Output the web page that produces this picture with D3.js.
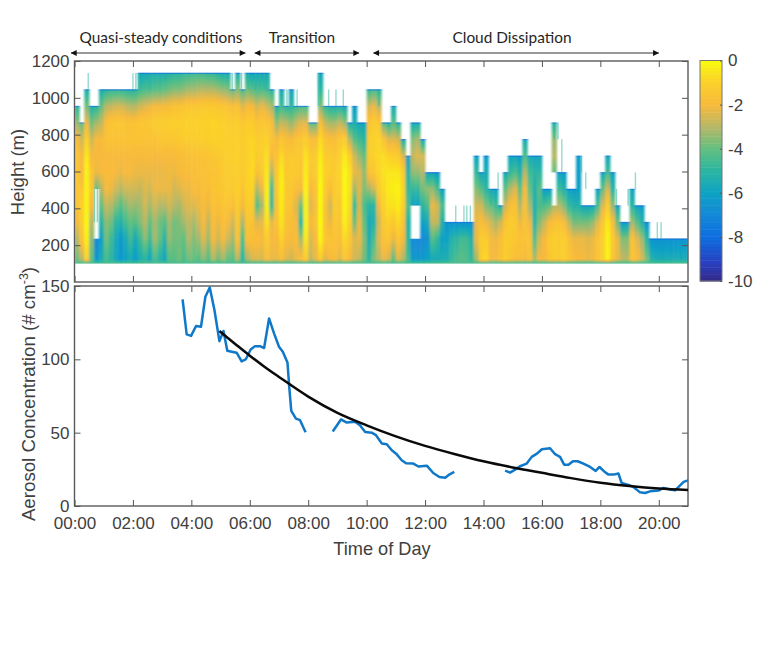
<!DOCTYPE html>
<html>
<head>
<meta charset="utf-8">
<script src="https://cdn.jsdelivr.net/npm/d3@7/dist/d3.min.js"></script>
<style>
  html, body { margin: 0; padding: 0; background: #fff; }
  svg { display: block; }
  text { font-family: "Liberation Sans", Arial, sans-serif; fill: #404040; }
  .note { font-family: Lato, "Open Sans", sans-serif; fill: #262626; font-size: 15.4px; }
</style>
</head>
<body>
<svg id="chart" width="768" height="646"></svg>
<script>
// Height (m) of each profile entry; a column lists values from the lowest level up to its cloud top.
const heightLevels = [125, 235, 325, 415, 505, 595, 685, 775, 865, 955, 1045, 1135];
const floorHeight = 100;
const floorValue = -4.4;
const n = null;

// log10 LWC profiles, one block per hour of the day, six ten-minute columns in each.
const hour00 = [
  [-3.8,-3,-2,-1.6,-1.5,-1.5,-1.5,-2,-3.4,-5],
  [-3,-1.5,-1.2,-1,-1.5,-2,-2,-2.6,-4],
  [-1,-0.3,-0.1,-0.2,-0.2,-0.2,-0.5,-1,-2.2,-3.8,-5.4],
  [-4,-3.5,-3,-2,-1.5,-1.5,-2,-2.6,-3.8,-5.2],
  [-6.5,-7,n,n,-4,-2.2,-2,-2,-3.2,-5],
  [-5.5,-6,-5,-4,-3,-2,-2,-2,-2.8,-4,-5.4]
];
const hour01 = [
  [-4.5,-3.8,-3.5,-2.8,-2,-1.9,-2,-1.6,-1.8,-3,-5],
  [-5,-4.6,-3.8,-3,-2.2,-1.9,-2,-1.6,-1.5,-2.8,-4.8],
  [-5.8,-5.6,-5,-3.6,-2.6,-2,-2,-1.6,-1.4,-2.6,-4.8],
  [-6.5,-6.4,-5.2,-4.2,-3,-2.2,-2,-1.6,-1.4,-2.6,-4.8],
  [-6,-5.6,-4.5,-3.6,-2.6,-2,-2,-1.6,-1.6,-2.8,-5],
  [-5.6,-4.6,-4,-3.2,-2.6,-2,-2,-1.6,-1.6,-3,-5]
];
const hour02 = [
  [-6.2,-5.6,-4.2,-3.4,-2.6,-2.2,-2,-1.6,-1.6,-3,-5],
  [-5.4,-4.6,-3.6,-3.2,-2.8,-2.2,-2,-1.6,-1.4,-2.6,-4.6,-5.8],
  [-5,-3.5,-3,-2.6,-2.4,-2.2,-2,-1.6,-1.4,-2.4,-4.4,-5.6],
  [-5.8,-4.6,-4,-3.2,-2.6,-2.2,-2,-1.6,-1.4,-2.2,-4.4,-5.6],
  [-4.4,-3.2,-3.2,-2.6,-2.2,-2.2,-2,-1.6,-1.2,-2,-4.2,-5.4],
  [-5.2,-4,-3.8,-3,-2.2,-2.2,-2,-1.4,-1.2,-2,-4.2,-5.4]
];
const hour03 = [
  [-5.8,-5,-4.2,-3,-2.2,-2.2,-2,-1.4,-1.2,-1.9,-4,-5.4],
  [-4.2,-3.4,-3.2,-2.6,-2.2,-2.1,-2,-1.4,-1.1,-1.8,-3.8,-5.2],
  [-4.2,-3.8,-3.8,-3,-2.6,-2.2,-2,-1.4,-1.1,-1.6,-3.6,-5],
  [-3.8,-3.8,-3.6,-3.2,-2.4,-2,-1.8,-1.3,-1.1,-1.6,-3.6,-5],
  [-4.4,-4,-3.2,-2.6,-2.2,-1.9,-1.8,-1.2,-1,-1.5,-3.4,-4.8],
  [-3.8,-3,-2.8,-2.4,-2.2,-1.9,-1.7,-1.2,-1,-1.4,-3.2,-4.8]
];
const hour04 = [
  [-4,-3.6,-3.2,-2.4,-1.9,-1.8,-1.7,-1.2,-1,-1.4,-3.2,-4.6],
  [-4.2,-3.2,-2.6,-2.2,-2,-1.7,-1.6,-1.1,-1,-1.4,-3,-4.6],
  [-3.5,-2.4,-2,-1.9,-1.7,-1.7,-1.6,-1.1,-1,-1.3,-3,-4.6],
  [-4.2,-3.2,-2.8,-2.2,-1.8,-1.6,-1.5,-1.1,-1,-1.3,-3,-4.8],
  [-3,-2,-1.8,-1.6,-1.5,-1.6,-1.4,-1,-0.9,-1.3,-3,-4.8],
  [-3.8,-2.6,-2.2,-1.8,-1.5,-1.5,-1.3,-1,-1,-1.4,-3.2,-5.2]
];
const hour05 = [
  [-3.2,-2,-1.8,-1.5,-1.4,-1.3,-1.2,-1,-1,-1.5,-3.4,-5.4],
  [-4,-2.6,-2,-1.5,-1.2,-1.2,-1.1,-1,-1.1,-1.6,-3.6,-5.6],
  [-4.2,-3.2,-2.6,-1.8,-1.3,-1.2,-1.1,-1.1,-1.2,-1.8,-4],
  [-3,-1.6,-1.4,-1.2,-1.1,-1.1,-1,-1,-1.1,-1.7,-3.6,-5.6],
  [-5,-4.2,-3,-2,-1.5,-1.3,-1.2,-1.2,-1.4,-2.4,-4.4],
  [-3.2,-1.7,-1.5,-1.2,-1,-1,-1,-1,-1.2,-2,-3.8,-5.6]
];
const hour06 = [
  [-2.5,-1.8,-1.6,-1.2,-0.9,-0.8,-0.8,-0.9,-1.2,-2,-4.2,-5.8],
  [-2.4,-1.8,-2.4,-4.2,-3,-1.7,-1.2,-1.2,-1.6,-2.6,-4.4,-5.8],
  [-2.5,-2,-2.2,-3.2,-2.2,-1.3,-1.1,-1.1,-1.4,-2.2,-4.4,-5.8],
  [-1.8,-1.2,-0.6,-0.3,-0.3,-0.5,-0.7,-1,-1.5,-2.6,-4.6,-5.8],
  [-2.2,-2,-2.2,-4.6,-4.4,-3,-2,-1.6,-1.8,-3.2,-5],
  [-2.2,-2,-1.6,-1.6,-1.4,-1.4,-1.6,-2,-3.4,-5.2]
];
const hour07 = [
  [-1.8,-1,-0.6,-0.4,-0.3,-0.4,-0.8,-1.5,-2.8,-4.6,-5.6],
  [-2.4,-1.8,-1.6,-1.4,-1.3,-1.3,-1.4,-1.8,-3,-5],
  [-2.6,-2,-1.8,-1.6,-1.4,-1.2,-1.3,-2,-3.4,-5,-5.8],
  [-2.2,-1.8,-2,-2.4,-1.8,-1.3,-1.3,-1.6,-2.8,-4.6],
  [-1.8,-3.2,-5,-3.8,-2,-1.5,-1.4,-1.5,-2.4,-4.4],
  [-1.2,-0.4,-0.2,-0.2,-0.2,-0.4,-0.6,-1.2,-2.4,-4.4]
];
const hour08 = [
  [-2.8,-2.4,-2,-2.4,-2,-1.4,-1.3,-1.8,-4],
  [-2.2,-2,-1.6,-1.8,-1.5,-1.2,-1.2,-1.8,-4],
  [-1.2,-0.2,-0.1,-0.1,-0.1,-0.2,-0.4,-0.8,-1.8,-3.6,-5,-5.8],
  [-2.4,-1.4,-1.6,-1.6,-1.2,-1,-1.2,-1.6,-2.8,-4.8],
  [-2,-1.6,-2.2,-2.6,-1.8,-1.2,-1.2,-1.8,-3.2,-5.2],
  [-1.8,-1.6,-1.3,-1.2,-1.2,-1.2,-1.4,-1.8,-3.2,-5.4]
];
const hour09 = [
  [-2.4,-1.8,-1.6,-1.4,-1.1,-0.9,-1,-1.4,-2.8,-5.2],
  [-1.4,-0.8,-0.3,-0.1,-0.1,-0.1,-0.4,-1.2,-3.4,-5.6],
  [-2,-1.4,-1,-0.8,-0.6,-0.6,-1.1,-3,-5.4],
  [-2.6,-2.4,-3.8,-4.6,-3.2,-2.2,-2.6,-4.2,-5.4,-6.2],
  [-2.8,-2.2,-2.2,-2.6,-2.4,-2.4,-3.4,-4.6,-5.8],
  [-3.8,-3.6,-4,-4.4,-3.6,-3.4,-4,-5,-5.8]
];
const hour10 = [
  [-5,-5.4,-5.6,-5,-3.2,-1.6,-1.2,-1.2,-1.6,-2.6,-4.8],
  [-3.6,-4.4,-5.2,-5,-2.6,-1.4,-1,-1,-1.2,-2.2,-4.4],
  [-3,-2.4,-2.6,-2,-1.2,-0.9,-0.8,-0.9,-1.4,-3,-5],
  [-2.2,-1.6,-1.3,-1,-0.8,-0.6,-0.7,-1.6,-4.2],
  [-2.6,-1.5,-1,-0.6,-0.4,-0.5,-1,-2.4,-5],
  [-4,-2.2,-1.3,-0.6,-0.3,-0.5,-1.1,-2.4,-4.2,-5.6]
];
const hour11 = [
  [-2.4,-1.4,-0.8,-0.4,-0.2,-0.5,-1.2,-2.6,-5],
  [-3,-2,-1.5,-1,-0.9,-1.2,-2.4,-5.4],
  [-4.5,-5,-5.2,-4.4,-4.8,-5.2,-6],
  [-6.4,-7,n,-6,-4.8,-3.4,-2.8,-3.6,-5.6],
  [-6.4,-7,n,-6,-4.8,-3.4,-2.4,-3.2,-5.6],
  [-6.4,-7,-6,-5,-3.8,-3,-2.6,-5.6]
];
const hour12 = [
  [-6,-6.5,-5.6,-4.4,-3.4,-5.8],
  [-5.6,-4.2,-2.8,-2.2,-3.4,-5.8],
  [-5.6,-4.8,-2.8,-2.6,-4.4,-6.2],
  [-5.5,-6,-5.2,-4.4,-6],
  [-5.4,-6,-6.6],
  [-4.8,-5.2,-6.6]
];
const hour13 = [
  [-4.4,-5,-6.6],
  [-4.2,-4.6,-6.6],
  [-4.3,-4.6,-6.6],
  [-4.8,-5.2,-6.6],
  [-3.2,-2.2,-2.2,-2.6,-3.6,-4.8,-6],
  [-1.2,-1.2,-1.8,-2.6,-4.2,-5.8]
];
const hour14 = [
  [-0.8,-1.2,-2.2,-3.6,-5,-5.6,-6.2],
  [-2,-2,-2.6,-4,-5.8],
  [-2,-2.2,-3.2,-4.6,-6],
  [-1.6,-1.8,-2.6,-5.2],
  [-1.2,-1.2,-1.6,-2.6,-4,-5.6],
  [-1.5,-1.2,-1.2,-1.8,-3,-4.8,-5.8]
];
const hour15 = [
  [-1.8,-1.4,-1.3,-1.6,-2.4,-4.4,-5.8],
  [-1.8,-1.6,-2.2,-3,-4,-5.2,-6.2],
  [-2,-1.6,-1.6,-1.7,-2,-3,-4.4,-5.6],
  [-1.6,-1.6,-2.2,-3.2,-4,-4.6,-5.6],
  [-3,-4.2,-5,-5.2,-5.2,-5,-5.8],
  [-2,-2.6,-3.6,-4.4,-4.2,-5,-5.8]
];
const hour16 = [
  [-2,-2,-2.8,-4.4,-6.2],
  [-1.5,-1.3,-2,-4,-6],
  [-1.2,-1.1,-1.7,-3,n,-4,-3,-3.4,-5.2],
  [-1.4,-1.2,-1.6,-3,-4.6,-6],
  [-1,-1.1,-1.8,-3.6,-5.2,-6.2],
  [-1.5,-1.7,-2.8,-4.8,-6]
];
const hour17 = [
  [-1.8,-2.2,-3.8,-5.2,-6.2],
  [-2,-2.2,-3.8,-5.2,-6,-6.2,-6],
  [-2,-2.2,-3.8,-5.8],
  [-2.2,-2.4,-3.8,-5.8],
  [-2,-2.2,-3.4,-5.6],
  [-1.5,-1.6,-2.4,-4.4,-6]
];
const hour18 = [
  [-1,-1,-1.4,-2.4,-4,-5.8],
  [-0.2,-0.2,-0.5,-1.2,-2.6,-4.6,-5.8],
  [-1.5,-1.2,-1.7,-3.4,-5,-6],
  [-2.2,-2.2,-3.8,-5.8],
  [-2.8,-3.6,-6.2],
  [-3,-3.6,-6.2]
];
const hour19 = [
  [-1.5,-1.6,-3.2,-5,-6],
  [-1.8,-2.4,-4.2,-6],
  [-2.5,-3.2,-5.2,-6.2],
  [-3.6,-5,-6.6],
  [-5.2,-6.6],
  [-5.5,-6.6]
];
const hour20 = [
  [-5.6,-6.6],
  [-5.5,-6.6],
  [-5.6,-6.7],
  [-5.5,-6.6],
  [-5.6,-6.6],
  [-5.5,-6.6]
];
const profileHours = [hour00, hour01, hour02, hour03, hour04, hour05, hour06, hour07, hour08, hour09,
  hour10, hour11, hour12, hour13, hour14, hour15, hour16, hour17, hour18, hour19, hour20];

// Faint single-scan returns above the main cloud top: [hour, lower height, upper height].
const wisps = [
  [0.47,1045,1135],[0.68,325,505],[0.78,325,505],[2.0,1045,1135],[2.1,1045,1135],[2.2,1045,1135],[2.6,1045,1135],
  [5.4,1045,1135],[5.72,1045,1135],[5.95,1045,1135],[6.2,1045,1135],[6.35,1045,1135],[6.5,1045,1135],[6.65,1045,1135],
  [7.27,955,1045],[7.62,955,1045],[8.35,955,1135],[8.7,955,1045],[8.95,955,1045],[9.2,955,1045],
  [10.42,955,1045],[13.05,325,415],[13.33,325,415],[13.43,325,415],[13.55,325,415],
  [14.25,415,505],[14.5,505,595],[16.42,775,865],[16.55,775,865],[16.68,595,775],
  [17.35,595,685],[17.5,505,595],[18.55,415,505],[18.95,415,505],[19.05,415,505],[19.2,505,595],
  [19.95,235,325],[20.08,235,325]
];

// Aerosol concentration (# cm-3) gauge record, three separate sampling legs.
const legOneHours = [3.70,3.84,3.99,4.16,4.33,4.48,4.63,4.79,4.96,5.10,5.23,5.38,5.55,5.72,5.86,6.03,6.18,6.35,6.49,6.66,6.83,7.00,7.13,7.29,7.35,7.42,7.58,7.72,7.91];
const legOneConc = [140.9,117,116,122.7,122.2,142.7,149,133.6,112.4,119.3,105.8,105.2,104.5,98.6,99.9,106.7,109,109,107.7,127.9,117.7,108.6,105.2,97.9,81.3,64.9,59.6,58.5,50.3];
const legTwoHours = [8.84,9.12,9.32,9.60,9.77,9.95,10.17,10.32,10.52,10.69,10.86,11.01,11.2,11.35,11.6,11.77,12.06,12.28,12.49,12.69,12.84,13.0];
const legTwoConc = [50.8,59,56.9,57.4,55,50.5,50,48.3,42.6,42.1,38,35.7,31.2,29.1,28.9,26.9,27.5,22.5,19.8,19.3,21.6,23.2];
const legThreeHours = [14.74,14.91,15.08,15.25,15.48,15.65,15.83,16.0,16.28,16.45,16.62,16.76,16.91,17.06,17.22,17.42,17.65,17.84,17.97,18.14,18.28,18.45,18.62,18.73,18.96,19.13,19.36,19.53,19.7,19.99,20.16,20.39,20.56,20.73,20.85,21];
const legThreeConc = [24.1,22.8,24.8,27.1,28.9,33.5,35.7,38.7,39.4,35.3,33.5,28.2,28.2,30.5,30.5,28.9,26.6,23.9,26.6,23.4,21.4,21.4,22.1,15.7,14.3,13,9.3,8.9,10,10.5,12.3,11.2,10.7,14.1,16.4,17.5];

// Decay fit through the concentration record.
const fitHours = [4.96,5.5,6,6.5,7,8,9,10,11,12,13,14,15,16,17,18,19,20,21];
const fitConc = [119.3,110.5,102.5,95,88,74.6,63.5,55,47.5,41,35.5,30.5,26.3,22.6,19,15.9,13.6,11.9,10.9];

const hourTicks = [0,2,4,6,8,10,12,14,16,18,20];
const heightTicks = [200,400,600,800,1000,1200];
const concTicks = [0,50,100,150];
const barTicks = [0,-2,-4,-6,-8,-10];

// Campaign phases above the panels: label, start hour, end hour.
const phases = [
  ["Quasi-steady conditions", -0.12, 5.85],
  ["Transition", 6.17, 9.74],
  ["Cloud Dissipation", 10.23, 20.0]
];

const svg = d3.select("#chart");
const left = 74.5, right = 688;
const top1 = 61, bot1 = 282, top2 = 286, bot2 = 506;
const barLeft = 700, barRight = 722, barTop = 60.5, barBot = 281;

const x = d3.scaleLinear().domain([0, 21]).range([left, right]);
const yH = d3.scaleLinear().domain([0, 1200]).range([bot1, top1]);
const yC = d3.scaleLinear().domain([0, 150]).range([bot2, top2]);
const yBar = d3.scaleLinear().domain([-10, 0]).range([barBot, barTop]);

const color = d3.scaleLinear()
  .domain([-10,-9.2,-8,-7,-6,-5,-4,-3,-2,-1,0])
  .range(["#352a87","#2a3fbe","#0d6ee0","#1488d8","#0ea2c4","#2bb5a2","#62c080","#b6b868","#f8ba3c","#fbd02a","#f9fb0e"])
  .clamp(true);

const defs = svg.append("defs");
const blur = defs.append("filter").attr("id", "shadingBlur")
  .attr("filterUnits", "userSpaceOnUse")
  .attr("x", 0).attr("y", 0).attr("width", 768).attr("height", 646);
blur.append("feGaussianBlur").attr("stdDeviation", "1.15 0.35");
defs.append("clipPath").attr("id", "upperClip").append("rect")
  .attr("x", left).attr("y", top1).attr("width", right - left).attr("height", bot1 - top1);

// Flatten the hourly blocks to time-stamped columns.
const columns = profileHours.flatMap((block, h) =>
  block.map((vals, i) => ({ start: h + i / 6, end: h + (i + 1) / 6, vals })));

const heat = svg.append("g").attr("clip-path", "url(#upperClip)")
  .append("g").attr("filter", "url(#shadingBlur)");

// One gradient per column, filled between its levels, with a rect per contiguous run.
columns.forEach((col, ci) => {
  const pts = [{ h: floorHeight, v: floorValue }];
  col.vals.forEach((v, i) => { pts.push({ h: heightLevels[i], v }); });
  const grad = defs.append("linearGradient").attr("id", "col" + ci)
    .attr("gradientUnits", "userSpaceOnUse")
    .attr("x1", 0).attr("x2", 0)
    .attr("y1", yH(floorHeight)).attr("y2", yH(1135));
  const span = yH(1135) - yH(floorHeight);
  for (let i = 0; i < pts.length; i++) {
    if (pts[i].v === null) continue;
    grad.append("stop").attr("offset", (yH(pts[i].h) - yH(floorHeight)) / span).attr("stop-color", color(pts[i].v));
    const nxt = pts[i + 1];
    if (nxt && nxt.v !== null) {
      [0.33, 0.67].forEach(f => {
        const h = pts[i].h + (nxt.h - pts[i].h) * f;
        const v = pts[i].v + (nxt.v - pts[i].v) * f;
        grad.append("stop").attr("offset", (yH(h) - yH(floorHeight)) / span).attr("stop-color", color(v));
      });
    }
  }
  let runStart = null;
  pts.forEach((p, i) => {
    if (p.v !== null && runStart === null) runStart = i;
    const ends = p.v !== null && (i === pts.length - 1 || pts[i + 1].v === null);
    if (ends) {
      heat.append("rect")
        .attr("x", x(col.start)).attr("width", x(col.end) - x(col.start) + 0.4)
        .attr("y", yH(p.h)).attr("height", yH(pts[runStart].h) - yH(p.h))
        .attr("fill", `url(#col${ci})`);
      runStart = null;
    }
  });
  // Cloud-top return, the thin blue rim on each column.
  const topH = pts[pts.length - 1].h;
  heat.append("rect")
    .attr("x", x(col.start)).attr("width", x(col.end) - x(col.start) + 0.4)
    .attr("y", yH(topH) - 0.3).attr("height", 1.2)
    .attr("fill", color(-8)).attr("opacity", 0.7);
});

svg.append("g").attr("clip-path", "url(#upperClip)")
  .selectAll("rect").data(wisps).join("rect")
  .attr("x", d => x(d[0]) - 0.7).attr("width", 1.4)
  .attr("y", d => yH(d[2])).attr("height", d => yH(d[1]) - yH(d[2]))
  .attr("fill", color(-5)).attr("opacity", 0.5);

// Panel frames and inward ticks on all four sides.
function frame(yScale, yTicks, yFormat, topY, botY, showX) {
  const strokeAxis = g => {
    g.select(".domain").remove();
    g.selectAll("line").attr("stroke", "#555").attr("stroke-width", 1);
    g.selectAll("text").attr("font-size", 17).attr("fill", "#404040")
      .attr("font-family", '"Liberation Sans", Arial, sans-serif');
  };
  svg.append("g").attr("transform", `translate(0,${botY})`)
    .call(d3.axisBottom(x).tickValues(hourTicks).tickSize(-6).tickSizeOuter(0)
      .tickFormat(d => showX ? String(d).padStart(2, "0") + ":00" : ""))
    .call(strokeAxis)
    .call(g => g.selectAll("text").attr("dy", 0).attr("y", 23));
  svg.append("g").attr("transform", `translate(0,${topY})`)
    .call(d3.axisTop(x).tickValues(hourTicks).tickSize(-6).tickSizeOuter(0).tickFormat(""))
    .call(strokeAxis);
  svg.append("g").attr("transform", `translate(${left},0)`)
    .call(d3.axisLeft(yScale).tickValues(yTicks).tickSize(-6).tickSizeOuter(0).tickFormat(yFormat))
    .call(strokeAxis)
    .call(g => g.selectAll("text").attr("x", -5));
  svg.append("g").attr("transform", `translate(${right},0)`)
    .call(d3.axisRight(yScale).tickValues(yTicks).tickSize(-6).tickSizeOuter(0).tickFormat(""))
    .call(strokeAxis);
  svg.append("rect").attr("x", left).attr("y", topY).attr("width", right - left).attr("height", botY - topY)
    .attr("fill", "none").attr("stroke", "#5a5a5a").attr("stroke-width", 1.4);
}
frame(yH, heightTicks, d3.format("d"), top1, bot1, false);
frame(yC, concTicks, d3.format("d"), top2, bot2, true);

// Colour bar.
const barSteps = d3.range(-10, 0, 0.15625);
svg.append("g").selectAll("rect").data(barSteps).join("rect")
  .attr("x", barLeft).attr("width", barRight - barLeft)
  .attr("y", d => yBar(d + 0.15625)).attr("height", d => yBar(d) - yBar(d + 0.15625) + 0.5)
  .attr("fill", d => color(d + 0.078));
svg.append("rect").attr("x", barLeft).attr("y", barTop).attr("width", barRight - barLeft).attr("height", barBot - barTop)
  .attr("fill", "none").attr("stroke", "#777").attr("stroke-width", 1);
svg.append("g").attr("transform", `translate(${barRight},0)`)
  .call(d3.axisRight(yBar).tickValues(barTicks).tickSize(-2).tickSizeOuter(0).tickFormat(d => String(d)))
  .call(g => g.select(".domain").remove())
  .call(g => g.selectAll("line").attr("stroke", "#555"))
  .call(g => g.selectAll("text").attr("x", 6).attr("font-size", 17).attr("fill", "#404040")
    .attr("font-family", '"Liberation Sans", Arial, sans-serif'));

// Concentration traces and the fit.
const trace = d3.line().x(d => x(d[0])).y(d => yC(d[1]));
[[legOneHours, legOneConc], [legTwoHours, legTwoConc], [legThreeHours, legThreeConc]].forEach(([hrs, vals]) => {
  svg.append("path").datum(d3.zip(hrs, vals)).attr("d", trace)
    .attr("fill", "none").attr("stroke", "#0f78c8").attr("stroke-width", 2.5).attr("stroke-linejoin", "round");
});
svg.append("path").datum(d3.zip(fitHours, fitConc))
  .attr("d", d3.line().x(d => x(d[0])).y(d => yC(d[1])).curve(d3.curveMonotoneX))
  .attr("fill", "none").attr("stroke", "#0a0a0a").attr("stroke-width", 2.5);

// Phase annotations with double-headed arrows.
defs.append("marker").attr("id", "arrowHead").attr("viewBox", "0 0 10 10")
  .attr("refX", 9.5).attr("refY", 5).attr("markerWidth", 7).attr("markerHeight", 6)
  .attr("markerUnits", "userSpaceOnUse").attr("orient", "auto-start-reverse")
  .append("path").attr("d", "M0,0L10,5L0,10Z").attr("fill", "#111");
const phaseGroup = svg.append("g").selectAll("g").data(phases).join("g");
phaseGroup.append("line")
  .attr("x1", d => x(d[1])).attr("x2", d => x(d[2]))
  .attr("y1", 53).attr("y2", 53)
  .attr("stroke", "#333").attr("stroke-width", 1)
  .attr("marker-start", "url(#arrowHead)").attr("marker-end", "url(#arrowHead)");
phaseGroup.append("text").attr("class", "note")
  .attr("x", (d, i) => [161, 302, 512][i]).attr("y", 43).attr("text-anchor", "middle")
  .text(d => d[0]);

// Axis titles.
svg.append("text").attr("transform", "translate(24,172) rotate(-90)").attr("text-anchor", "middle")
  .attr("font-size", 18.5).text("Height (m)");
svg.append("text").attr("x", 382).attr("y", 555).attr("text-anchor", "middle")
  .attr("font-size", 18.2).text("Time of Day");
const concTitle = svg.append("text").attr("transform", "translate(35,394) rotate(-90)").attr("text-anchor", "middle")
  .attr("font-size", 18.7);
concTitle.append("tspan").text("Aerosol Concentration (# cm");
concTitle.append("tspan").attr("font-size", 12.5).attr("dy", -7).text("-3");
concTitle.append("tspan").attr("dy", 7).text(")");
</script>
</body>
</html>
